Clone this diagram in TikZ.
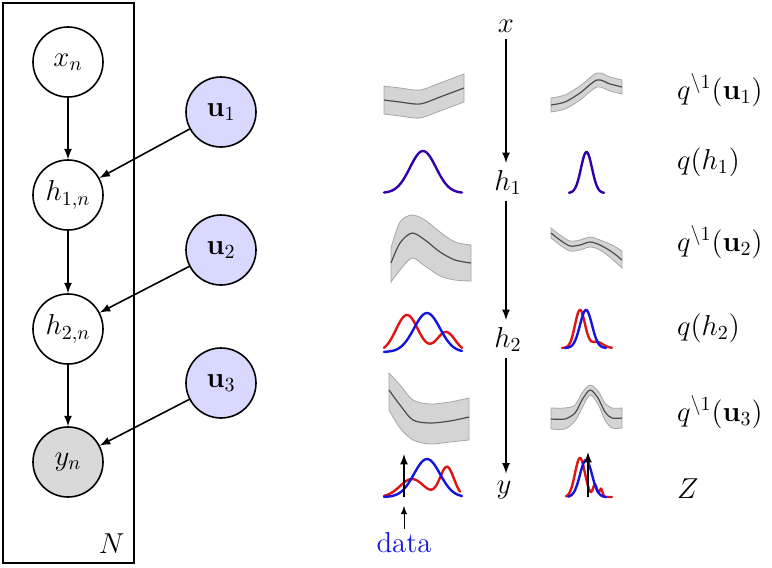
\documentclass[tikz,border=0pt]{standalone}
\usetikzlibrary{positioning}
\definecolor{postindigo}{RGB}{50,0,170}
\definecolor{postblue}{RGB}{20,20,225}
\definecolor{postred}{RGB}{225,20,20}
\newcommand{\bump}[3]{#3*exp(-0.5*pow((\x-#1)/#2,2))}
\tikzset{
  latent/.style={circle, draw, thick, minimum size=35pt, inner sep=0pt},
  observed/.style={latent, fill=black!15},
  inducing/.style={latent, fill=blue!15},
  band/.style={fill=black!17, draw=black!35, line width=0.4pt},
  meanline/.style={draw=black!70, line width=0.6pt},
  dens/.style={line width=1.2pt, line cap=round},
}
\begin{document}
\begin{tikzpicture}[x=0.5pt, y=-0.5pt, font=\Large, >=latex]
\useasboundingbox (0,0) rectangle (772,568);

% graphical model
\node [draw, thick, minimum width=65.5pt, minimum height=280pt, inner sep=0pt] (plate) at (68.5,283) {};
\node [anchor=south east, inner sep=5pt] (N) at (plate.south east) {$N$};
\node [latent] (xn) at (68,62) {$x_n$};
\node [latent] (h1n) at (68,195) {$h_{1,n}$};
\node [latent] (h2n) at (68,329) {$h_{2,n}$};
\node [observed] (yn) at (68,462) {$y_n$};
\node [inducing] (u1) at (221,112) {$\mathbf{u}_1$};
\node [inducing] (u2) at (221,250) {$\mathbf{u}_2$};
\node [inducing] (u3) at (221,383) {$\mathbf{u}_3$};
\draw[->, thick] (xn) -- (h1n);
\draw[->, thick] (h1n) -- (h2n);
\draw[->, thick] (h2n) -- (yn);
\draw[->, thick] (u1) -- (h1n);
\draw[->, thick] (u2) -- (h2n);
\draw[->, thick] (u3) -- (yn);

% layers
\node [anchor=base] (lx) at (506,32) {$x$};
\node [anchor=base] (lh1) at (508,190) {$h_1$};
\node [anchor=base] (lh2) at (508,347) {$h_2$};
\node [anchor=base] (ly) at (504,493) {$y$};
\draw[->, thick] (lx) -- (lx |- lh1.north);
\draw[->, thick] (lh1.south -| lx) -- (lx |- lh2.north);
\draw[->, thick] (lh2.south -| lx) -- (lx |- ly.north);

% labels on the right
\node [anchor=west] (qu1) at (670,90) {$q^{\backslash 1}(\mathbf{u}_1)$};
\node [anchor=west] (qh1) at (670,162) {$q(h_1)$};
\node [anchor=west] (qu2) at (670,242) {$q^{\backslash 1}(\mathbf{u}_2)$};
\node [anchor=west] (qh2) at (670,328) {$q(h_2)$};
\node [anchor=west] (qu3) at (670,412) {$q^{\backslash 1}(\mathbf{u}_3)$};
\node [anchor=west] (qZ) at (670,489) {$Z$};

% GP 1
\filldraw[band] plot[smooth] coordinates {(384,86) (400,88) (420,90) (440,83) (464,74)}
  -- plot[smooth] coordinates {(464,102) (440,111) (420,118) (400,116) (384,114)} -- cycle;
\draw[meanline] plot[smooth] coordinates {(384,100) (400,102) (420,104) (440,97) (464,88)};
\filldraw[band] plot[smooth] coordinates {(551,98) (565,95) (580,86) (597,73) (610,77) (622,80)}
  -- plot[smooth] coordinates {(622,94) (610,91) (597,87) (580,100) (565,109) (551,112)} -- cycle;
\draw[meanline] plot[smooth] coordinates {(551,105) (565,102) (580,93) (597,80) (610,84) (622,87)};

% q(h1)
\draw[dens, postindigo] plot[domain=384:462, samples=50] (\x, {193-\bump{423}{13}{42}});
\draw[dens, postindigo] plot[domain=569:604, samples=40] (\x, {193-\bump{586.5}{5.5}{41}});

% GP 2
\filldraw[band] plot[smooth] coordinates {(391,248) (400,222) (412,215) (425,220) (440,232) (455,242) (471,245)}
  -- plot[smooth] coordinates {(471,281) (455,280) (440,276) (425,266) (412,258) (400,270) (391,282)} -- cycle;
\draw[meanline] plot[smooth] coordinates {(391,263) (400,243) (412,233) (425,240) (440,252) (455,260) (471,263)};
\filldraw[band] plot[smooth] coordinates {(551,228) (560,235) (570,241) (580,240) (590,237) (600,240) (612,245) (622,251)}
  -- plot[smooth] coordinates {(622,268) (612,259) (600,250) (590,247) (580,250) (570,251) (560,245) (551,238)} -- cycle;
\draw[meanline] plot[smooth] coordinates {(551,233) (560,240) (570,246) (580,245) (590,242) (600,245) (612,252) (622,260)};

% q(h2)
\draw[dens, postred] plot[domain=384:462, samples=60] (\x, {352-\bump{407}{11}{37}-\bump{446}{9}{20}});
\draw[dens, postblue] plot[domain=384:462, samples=50] (\x, {352-\bump{427}{13}{39}});
\draw[dens, postred] plot[domain=562:612, samples=60] (\x, {348-\bump{580}{5}{38}-\bump{597}{6}{6}});
\draw[dens, postblue] plot[domain=565:606, samples=50] (\x, {348-\bump{586}{6}{38}});

% GP 3
\filldraw[band] plot[smooth] coordinates {(389,373) (400,385) (413,400) (430,404) (450,402) (469,398)}
  -- plot[smooth] coordinates {(469,440) (450,442) (430,444) (413,440) (400,428) (389,410)} -- cycle;
\draw[meanline] plot[smooth] coordinates {(389,390) (400,405) (413,420) (430,423) (450,421) (469,417)};
\filldraw[band] plot[smooth] coordinates {(551,408) (565,408) (575,405) (582,393) (590,385) (598,391) (605,403) (612,408) (622,408)}
  -- plot[smooth] coordinates {(622,428) (612,428) (605,420) (598,404) (590,395) (582,408) (575,421) (565,429) (551,429)} -- cycle;
\draw[meanline] plot[smooth] coordinates {(551,419) (565,419) (575,413) (582,400) (590,390) (598,398) (605,412) (612,418) (622,418)};

% Z
\draw[dens, postred] plot[domain=384:460, samples=60] (\x, {497-\bump{412}{12}{18}-\bump{447}{7}{30}});
\draw[dens, postblue] plot[domain=384:462, samples=50] (\x, {497-\bump{427}{13}{38}});
\draw[dens, postred] plot[domain=566:612, samples=80] (\x, {497-\bump{580}{5}{39}-\bump{595}{2}{12}-\bump{601}{1.5}{8}});
\draw[dens, postblue] plot[domain=568:606, samples=50] (\x, {497-\bump{586}{6}{37}});
\coordinate (obsL) at (404,497);
\coordinate (obsLtop) at (404,454);
\coordinate (obsR) at (588,497);
\coordinate (obsRtop) at (588,452);
\draw[->, thick] (obsL) -- (obsLtop);
\draw[->, thick] (obsR) -- (obsRtop);
\node [anchor=base, inner sep=1.5pt, text=postblue] (data) at (404,552) {data};
\coordinate (datatip) at (404,506);
\draw[->, thin] (data) -- (datatip);
\end{tikzpicture}
\end{document}
